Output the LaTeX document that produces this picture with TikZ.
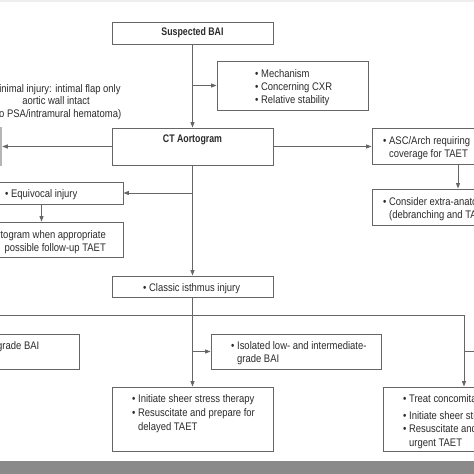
\documentclass[tikz,border=0pt]{standalone}
\usepackage{fontspec}
\setmainfont{Liberation Sans}[FakeStretch=0.86]
\newfontfamily\bcond{Liberation Sans}[FakeStretch=0.8]
\usetikzlibrary{arrows.meta}
\definecolor{linec}{HTML}{666666}
\definecolor{txtc}{HTML}{2B2B2B}
\definecolor{barc}{HTML}{8A8A8A}
\definecolor{topc}{HTML}{EEEEEE}
\definecolor{edgec}{HTML}{B5B5B5}
\begin{document}
\begin{tikzpicture}[x=1bp,y=-1bp,
  box/.style={draw=linec, line width=0.9bp, inner sep=0pt, fill=white},
  conn/.style={draw=linec, line width=0.9bp},
  arr/.style={conn, -{Triangle[length=5.5bp,width=4bp]}},
  txt/.style={text=txtc, inner sep=0pt, align=left, font=\fontsize{11bp}{13bp}\selectfont},
  btxt/.style={text=txtc, inner sep=0pt, font=\bcond\bfseries\fontsize{11bp}{13bp}\selectfont}]
\useasboundingbox (0,0) rectangle (474,474);
\fill[white] (0,0) rectangle (474,474);
\fill[topc] (0,0) rectangle (474,2.5);
% boxes
\node[box, minimum width=161bp, minimum height=22bp] (susp) at (192.5,33) {};
\node[box, minimum width=151bp, minimum height=49bp] (mech) at (292.5,85.5) {};
\node[box, minimum width=161bp, minimum height=37bp] (ct) at (192.5,146.5) {};
\node[draw=edgec, line width=2.5bp, inner sep=0pt, minimum width=161bp, minimum height=37bp] (leftbox) at (-79.5,146.5) {};
\node[box, minimum width=172bp, minimum height=36bp] (asc) at (458,146) {};
\node[box, minimum width=172bp, minimum height=36bp] (cons) at (458,207) {};
\node[box, minimum width=163bp, minimum height=22bp] (equiv) at (41.5,193) {};
\node[box, minimum width=163bp, minimum height=35bp] (angio) at (41.5,239.5) {};
\node[box, minimum width=161bp, minimum height=21bp] (classic) at (192.5,286.5) {};
\node[box, minimum width=161bp, minimum height=35bp] (high) at (-1.5,351.5) {};
\node[box, minimum width=170bp, minimum height=35bp] (iso) at (296,351.5) {};
\node[box, minimum width=161bp, minimum height=64bp] (init) at (192.5,419) {};
\node[box, minimum width=162bp, minimum height=64bp] (treat) at (464,419) {};
% connectors
\coordinate (split) at (192.5,315);
\coordinate (lfree) at (-12,315);
\coordinate (rfree) at (490,351.5);
\draw[arr] (susp.south) -- (ct.north);
\draw[arr] (susp.south |- mech.west) -- (mech.west);
\draw[arr] (ct.west) -- (leftbox.east);
\draw[arr] (ct.east) -- (ct.east -| asc.west);
\draw[arr] (asc.south) -- (cons.north);
\draw[arr] (ct.south) -- (classic.north);
\draw[arr] (ct.south |- equiv.east) -- (equiv.east);
\draw[arr] (equiv.south) -- (angio.north);
\draw[arr] (classic.south) -- (init.north);
\draw[conn] (lfree) -- (split);
\draw[arr] (split) -| (treat.north);
\draw[arr] (classic.south |- iso.west) -- (iso.west);
\draw[conn] (treat.north |- iso.west) -- (rfree);
% texts
\node[btxt] (tsusp) at (susp.center) {Suspected BAI};
\node[btxt, anchor=base] (tct) at (192.5,143) {CT Aortogram};
\node[txt, anchor=north west] (tmech) at (255,69) {• Mechanism\\• Concerning CXR\\• Relative stability};
\node[txt, anchor=north, align=center, font=\fontsize{11bp}{12.5bp}\selectfont] (tmin) at (56,84) {Minimal injury: intimal flap only\\aortic wall intact\\(no PSA/intramural hematoma)};
\node[txt, anchor=north west] (tasc) at (383,136) {• ASC/Arch requiring\\\hphantom{• }coverage for TAET};
\node[txt, anchor=north west] (tcons) at (383,197) {• Consider extra-anatomic\\\hphantom{• }(debranching and TAET)};
\node[txt, anchor=base west] (tequiv) at (5,198) {• Equivocal injury};
\node[txt, anchor=north east, align=right] (tangio) at (106,230) {• Aortogram when appropriate\\possible follow-up TAET};
\node[txt, anchor=base west] (tclassic) at (143,291) {• Classic isthmus injury};
\node[txt, anchor=base east] (thigh) at (39.5,349) {• Isolated high-grade BAI};
\node[txt, anchor=north west] (tiso) at (231,341) {• Isolated low- and intermediate-\\\hphantom{• }grade BAI};
\node[txt, anchor=north west, font=\fontsize{11bp}{14bp}\selectfont] (tinit) at (132,394) {• Initiate sheer stress therapy\\• Resuscitate and prepare for\\\hphantom{• }delayed TAET};
\node[txt, anchor=north west, font=\fontsize{11bp}{13.5bp}\selectfont] (ttreat) at (403,394) {• Treat concomitant injuries\\[3.5bp]• Initiate sheer stress therapy\\• Resuscitate and prepare for\\\hphantom{• }urgent TAET};
\fill[barc] (0,461) rectangle (474,474);
\end{tikzpicture}
\end{document}
